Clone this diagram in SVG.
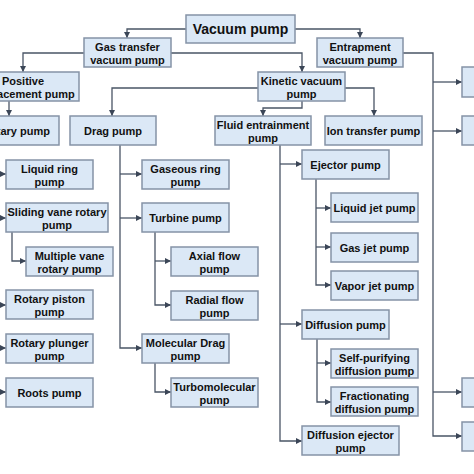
<svg xmlns="http://www.w3.org/2000/svg" width="474" height="474" viewBox="0 0 474 474">
<defs>
<marker id="ah" markerUnits="userSpaceOnUse" markerWidth="7" markerHeight="6" refX="6" refY="3" orient="auto">
<path d="M0,0 L6,3 L0,6 z" fill="#3b4657"/>
</marker>
<style>
.n rect{fill:#dbe8f6;stroke:#8593a6;stroke-width:1.5}
.n text{font-family:"Liberation Sans",Arial,sans-serif;font-weight:bold;font-size:11px;text-anchor:middle;fill:#111}
#conn path{fill:none;stroke:#4a5566;stroke-width:1.3}
#conn path.a{marker-end:url(#ah)}
</style>
</defs>
<rect width="474" height="474" fill="#fff"/>
<g id="conn">
<path class="a" d="M186,29 H127 V38"/>
<path class="a" d="M295,29 H360 V38"/>
<path class="a" d="M84,53 H23 V72"/>
<path class="a" d="M171,53 H302 V72"/>
<path class="a" d="M403,53 H433 V436 H462"/>
<path class="a" d="M433,82 H462"/>
<path class="a" d="M433,131 H462"/>
<path class="a" d="M433,392 H462"/>
<path class="a" d="M9,101 V116"/>
<path class="a" d="M258,88 H112 V116"/>
<path class="a" d="M302,101 V108 H263 V116"/>
<path class="a" d="M345,88 H374 V116"/>
<path class="a" d="M-3,145 V392 H6"/>
<path class="a" d="M-3,174 H6"/>
<path class="a" d="M-3,218 H6"/>
<path class="a" d="M-3,305 H6"/>
<path class="a" d="M-3,348 H6"/>
<path class="a" d="M12,232 V261 H26"/>
<path class="a" d="M120,145 V348 H142"/>
<path class="a" d="M120,174 H142"/>
<path class="a" d="M120,218 H142"/>
<path class="a" d="M155,232 V305 H171"/>
<path class="a" d="M155,261 H171"/>
<path class="a" d="M155,363 V392 H171"/>
<path class="a" d="M280,145 V441 H302"/>
<path class="a" d="M280,164 H302"/>
<path class="a" d="M280,324 H302"/>
<path class="a" d="M316,179 V285 H331"/>
<path class="a" d="M316,208 H331"/>
<path class="a" d="M316,247 H331"/>
<path class="a" d="M317,339 V402 H331"/>
<path class="a" d="M317,363 H331"/>
</g>
<g id="vacuum" class="n"><rect x="186" y="15" width="109" height="28"/><text x="240.5" y="34" style="font-size:14px">Vacuum pump</text></g>
<g id="gas" class="n"><rect x="84" y="38" width="87" height="29"/><text x="127.5" y="51">Gas transfer</text><text x="127.5" y="64">vacuum pump</text></g>
<g id="entrap" class="n"><rect x="317" y="38" width="86" height="29"/><text x="360" y="51">Entrapment</text><text x="360" y="64">vacuum pump</text></g>
<g id="positive" class="n"><rect x="-33" y="72" width="112" height="29"/><text x="23" y="85">Positive</text><text x="23" y="98">displacement pump</text></g>
<g id="kinetic" class="n"><rect x="258" y="72" width="87" height="29"/><text x="301.5" y="85">Kinetic vacuum</text><text x="301.5" y="98">pump</text></g>
<g id="rotary" class="n"><rect x="-27" y="116" width="86" height="29"/><text x="16" y="134.5">Rotary pump</text></g>
<g id="drag" class="n"><rect x="70" y="116" width="86" height="29"/><text x="113" y="134.5">Drag pump</text></g>
<g id="fluid" class="n"><rect x="215" y="116" width="96" height="29"/><text x="263" y="129">Fluid entrainment</text><text x="263" y="142">pump</text></g>
<g id="ion" class="n"><rect x="325" y="116" width="97" height="29"/><text x="373.5" y="134.5">Ion transfer pump</text></g>
<g id="right1" class="n"><rect x="462" y="67" width="40" height="30"/></g>
<g id="right2" class="n"><rect x="462" y="116" width="40" height="29"/></g>
<g id="right3" class="n"><rect x="462" y="378" width="40" height="29"/></g>
<g id="right4" class="n"><rect x="462" y="422" width="40" height="29"/></g>
<g id="liquidring" class="n"><rect x="6" y="160" width="87" height="29"/><text x="49.5" y="172.5">Liquid ring</text><text x="49.5" y="185.5">pump</text></g>
<g id="sliding" class="n"><rect x="6" y="203" width="102" height="29"/><text x="57" y="215.5">Sliding vane rotary</text><text x="57" y="228.5">pump</text></g>
<g id="multiple" class="n"><rect x="26" y="247" width="87" height="29"/><text x="69.5" y="259.5">Multiple vane</text><text x="69.5" y="272.5">rotary pump</text></g>
<g id="piston" class="n"><rect x="6" y="290" width="87" height="29"/><text x="49.5" y="302.5">Rotary piston</text><text x="49.5" y="315.5">pump</text></g>
<g id="plunger" class="n"><rect x="6" y="334" width="87" height="29"/><text x="49.5" y="346.5">Rotary plunger</text><text x="49.5" y="359.5">pump</text></g>
<g id="roots" class="n"><rect x="6" y="378" width="87" height="29"/><text x="49.5" y="396.5">Roots pump</text></g>
<g id="gaseous" class="n"><rect x="142" y="160" width="87" height="29"/><text x="185.5" y="172.5">Gaseous ring</text><text x="185.5" y="185.5">pump</text></g>
<g id="turbine" class="n"><rect x="142" y="203" width="87" height="29"/><text x="185.5" y="221.5">Turbine pump</text></g>
<g id="axial" class="n"><rect x="171" y="247" width="87" height="29"/><text x="214.5" y="259.5">Axial flow</text><text x="214.5" y="272.5">pump</text></g>
<g id="radial" class="n"><rect x="171" y="291" width="87" height="29"/><text x="214.5" y="303.5">Radial flow</text><text x="214.5" y="316.5">pump</text></g>
<g id="molecular" class="n"><rect x="142" y="334" width="87" height="29"/><text x="185.5" y="346.5">Molecular Drag</text><text x="185.5" y="359.5">pump</text></g>
<g id="turbomol" class="n"><rect x="171" y="378" width="87" height="29"/><text x="214.5" y="390.5">Turbomolecular</text><text x="214.5" y="403.5">pump</text></g>
<g id="ejector" class="n"><rect x="302" y="150" width="87" height="29"/><text x="345.5" y="168.5">Ejector pump</text></g>
<g id="liquidjet" class="n"><rect x="331" y="193" width="87" height="29"/><text x="374.5" y="211.5">Liquid jet pump</text></g>
<g id="gasjet" class="n"><rect x="331" y="233" width="87" height="29"/><text x="374.5" y="251.5">Gas jet pump</text></g>
<g id="vaporjet" class="n"><rect x="331" y="271" width="87" height="29"/><text x="374.5" y="289.5">Vapor jet pump</text></g>
<g id="diffusion" class="n"><rect x="302" y="310" width="87" height="29"/><text x="345.5" y="328.5">Diffusion pump</text></g>
<g id="selfpur" class="n"><rect x="331" y="349" width="87" height="29"/><text x="374.5" y="361.5">Self-purifying</text><text x="374.5" y="374.5">diffusion pump</text></g>
<g id="fraction" class="n"><rect x="331" y="387" width="87" height="29"/><text x="374.5" y="399.5">Fractionating</text><text x="374.5" y="412.5">diffusion pump</text></g>
<g id="diffejector" class="n"><rect x="302" y="426" width="97" height="29"/><text x="350.5" y="438.5">Diffusion ejector</text><text x="350.5" y="451.5">pump</text></g>
</svg>
